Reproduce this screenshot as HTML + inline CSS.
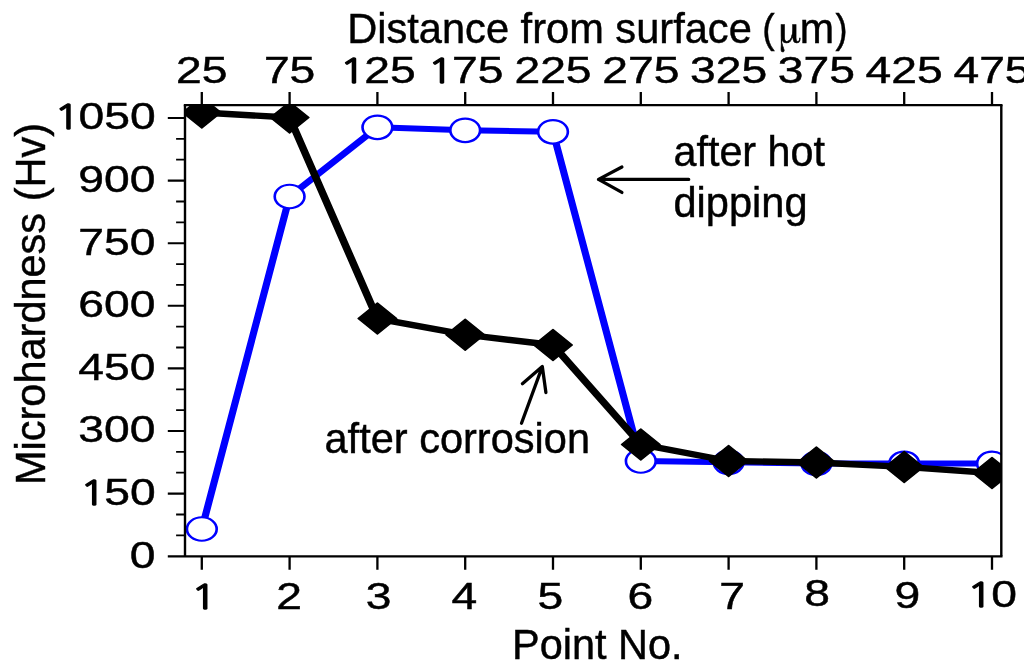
<!DOCTYPE html>
<html><head><meta charset="utf-8"><title>Microhardness</title>
<style>
html,body{margin:0;padding:0;background:#fff;}
body{width:1024px;height:669px;overflow:hidden;}
svg{display:block;filter:blur(0.5px);}
text{font-family:"Liberation Sans",Arial,sans-serif;fill:#000;stroke:#000;stroke-width:0.45px;}
.tk{font-size:37px;}
.lb{font-size:42px;}
.one{font-family:"NanumGothic","Liberation Sans",sans-serif;font-size:34.6px;stroke-width:1.25px;}
</style></head><body>
<svg width="1024" height="669" viewBox="0 0 1024 669">
<rect width="1024" height="669" fill="#fff"/>
<defs><clipPath id="cp"><rect x="185.0" y="105.0" width="816.3" height="451.3"/></clipPath></defs>

<g clip-path="url(#cp)"><g transform="scale(1.20,1)">
<polyline points="168.17,529.0 241.33,196.5 314.50,127.3 387.67,130.3 460.83,131.8 534.00,461.0 607.17,462.3 680.33,463.5 753.50,463.4 826.67,463.4" fill="none" stroke="#0000ff" stroke-width="6.0" stroke-linejoin="round"/>
<ellipse cx="168.17" cy="529.0" rx="12.4" ry="11.75" fill="#fff" stroke="#0000ff" stroke-width="2.2"/>
<ellipse cx="241.33" cy="196.5" rx="12.4" ry="11.75" fill="#fff" stroke="#0000ff" stroke-width="2.2"/>
<ellipse cx="314.50" cy="127.3" rx="12.4" ry="11.75" fill="#fff" stroke="#0000ff" stroke-width="2.2"/>
<ellipse cx="387.67" cy="130.3" rx="12.4" ry="11.75" fill="#fff" stroke="#0000ff" stroke-width="2.2"/>
<ellipse cx="460.83" cy="131.8" rx="12.4" ry="11.75" fill="#fff" stroke="#0000ff" stroke-width="2.2"/>
<ellipse cx="534.00" cy="461.0" rx="12.4" ry="11.75" fill="#fff" stroke="#0000ff" stroke-width="2.2"/>
<ellipse cx="607.17" cy="462.3" rx="12.4" ry="11.75" fill="#fff" stroke="#0000ff" stroke-width="2.2"/>
<ellipse cx="680.33" cy="463.5" rx="12.4" ry="11.75" fill="#fff" stroke="#0000ff" stroke-width="2.2"/>
<ellipse cx="753.50" cy="463.4" rx="12.4" ry="11.75" fill="#fff" stroke="#0000ff" stroke-width="2.2"/>
<ellipse cx="826.67" cy="463.4" rx="12.4" ry="11.75" fill="#fff" stroke="#0000ff" stroke-width="2.2"/>
<polyline points="168.17,112.5 241.33,117.5 314.50,318.6 387.67,334.7 460.83,345.0 534.00,444.4 607.17,461.0 680.33,462.5 753.50,466.9 826.67,473.0" fill="none" stroke="#000" stroke-width="6.4" stroke-linejoin="round"/>
<polygon points="152.17,112.5 168.17,97.0 184.17,112.5 168.17,128.0" fill="#000" stroke="#000" stroke-width="1.4" stroke-linejoin="round"/>
<polygon points="225.33,117.5 241.33,102.0 257.33,117.5 241.33,133.0" fill="#000" stroke="#000" stroke-width="1.4" stroke-linejoin="round"/>
<polygon points="298.50,318.6 314.50,303.1 330.50,318.6 314.50,334.1" fill="#000" stroke="#000" stroke-width="1.4" stroke-linejoin="round"/>
<polygon points="371.67,334.7 387.67,319.2 403.67,334.7 387.67,350.2" fill="#000" stroke="#000" stroke-width="1.4" stroke-linejoin="round"/>
<polygon points="444.83,345.0 460.83,329.5 476.83,345.0 460.83,360.5" fill="#000" stroke="#000" stroke-width="1.4" stroke-linejoin="round"/>
<polygon points="518.00,444.4 534.00,428.9 550.00,444.4 534.00,459.9" fill="#000" stroke="#000" stroke-width="1.4" stroke-linejoin="round"/>
<polygon points="591.17,461.0 607.17,445.5 623.17,461.0 607.17,476.5" fill="#000" stroke="#000" stroke-width="1.4" stroke-linejoin="round"/>
<polygon points="664.33,462.5 680.33,447.0 696.33,462.5 680.33,478.0" fill="#000" stroke="#000" stroke-width="1.4" stroke-linejoin="round"/>
<polygon points="737.50,466.9 753.50,451.4 769.50,466.9 753.50,482.4" fill="#000" stroke="#000" stroke-width="1.4" stroke-linejoin="round"/>
<polygon points="810.67,473.0 826.67,457.5 842.67,473.0 826.67,488.5" fill="#000" stroke="#000" stroke-width="1.4" stroke-linejoin="round"/>
</g></g>
<g stroke="#000" fill="none" stroke-linecap="butt">
<path stroke-width="2.2" d="M183.8 105.2 H1002.5 M167.8 556.3 H1002.5"/>
<path stroke-width="2.4" d="M185.0 105.0 V556.3 M1001.3 105.0 V556.3"/>
<path stroke-width="2.3" d="M201.8 105.0 V91.9 M201.8 556.3 V569.7M289.6 105.0 V91.9 M289.6 556.3 V569.7M377.4 105.0 V91.9 M377.4 556.3 V569.7M465.2 105.0 V91.9 M465.2 556.3 V569.7M553.0 105.0 V91.9 M553.0 556.3 V569.7M640.8 105.0 V91.9 M640.8 556.3 V569.7M728.6 105.0 V91.9 M728.6 556.3 V569.7M816.4 105.0 V91.9 M816.4 556.3 V569.7M904.2 105.0 V91.9 M904.2 556.3 V569.7M992.0 105.0 V91.9 M992.0 556.3 V569.7"/>
<path stroke-width="2.1" d="M185.0 493.6 H167.8M185.0 431.0 H167.8M185.0 368.4 H167.8M185.0 305.8 H167.8M185.0 243.2 H167.8M185.0 180.6 H167.8M185.0 118.0 H167.8"/>
<path stroke-width="1.8" d="M185.0 535.3 H176.1M185.0 514.5 H176.1M185.0 472.7 H176.1M185.0 451.9 H176.1M185.0 410.1 H176.1M185.0 389.3 H176.1M185.0 347.5 H176.1M185.0 326.7 H176.1M185.0 284.9 H176.1M185.0 264.1 H176.1M185.0 222.3 H176.1M185.0 201.5 H176.1M185.0 159.7 H176.1M185.0 138.9 H176.1"/>
</g>
<text class="tk" text-anchor="middle" transform="translate(201.8,82.7) scale(1.25,1)">25</text>
<text class="tk" text-anchor="middle" transform="translate(203.8,608.6) scale(1.25,1)"><tspan class="one">1</tspan></text>
<text class="tk" text-anchor="middle" transform="translate(289.6,82.7) scale(1.25,1)">75</text>
<text class="tk" text-anchor="middle" transform="translate(289.1,608.6) scale(1.25,1)">2</text>
<text class="tk" text-anchor="middle" transform="translate(376.0,82.7) scale(1.25,1)"><tspan class="one" dx="1.3">1</tspan><tspan dx="-1.3">2</tspan>5</text>
<text class="tk" text-anchor="middle" transform="translate(378.5,608.6) scale(1.25,1)">3</text>
<text class="tk" text-anchor="middle" transform="translate(463.8,82.7) scale(1.25,1)"><tspan class="one" dx="1.3">1</tspan><tspan dx="-1.3">7</tspan>5</text>
<text class="tk" text-anchor="middle" transform="translate(464.4,608.6) scale(1.25,1)">4</text>
<text class="tk" text-anchor="middle" transform="translate(553.0,82.7) scale(1.25,1)">225</text>
<text class="tk" text-anchor="middle" transform="translate(550.3,609.1) scale(1.25,1)">5</text>
<text class="tk" text-anchor="middle" transform="translate(640.8,82.7) scale(1.25,1)">275</text>
<text class="tk" text-anchor="middle" transform="translate(640.3,609.1) scale(1.25,1)">6</text>
<text class="tk" text-anchor="middle" transform="translate(728.6,82.7) scale(1.25,1)">325</text>
<text class="tk" text-anchor="middle" transform="translate(732.0,609.1) scale(1.25,1)">7</text>
<text class="tk" text-anchor="middle" transform="translate(816.4,82.7) scale(1.25,1)">375</text>
<text class="tk" text-anchor="middle" transform="translate(817.0,605.6) scale(1.25,1)">8</text>
<text class="tk" text-anchor="middle" transform="translate(904.2,82.7) scale(1.25,1)">425</text>
<text class="tk" text-anchor="middle" transform="translate(907.3,608.0) scale(1.25,1)">9</text>
<text class="tk" text-anchor="middle" transform="translate(992.0,82.7) scale(1.25,1)">475</text>
<text class="tk" text-anchor="middle" transform="translate(990.3,607.2) scale(1.25,1)"><tspan class="one" dx="1.3">1</tspan><tspan dx="-1.3">0</tspan></text>
<text class="tk" text-anchor="end" transform="translate(155.5,567.5) scale(1.25,1)">0</text>
<text class="tk" text-anchor="end" transform="translate(154.1,504.9) scale(1.25,1)"><tspan class="one" dx="1.3">1</tspan><tspan dx="-1.3">5</tspan>0</text>
<text class="tk" text-anchor="end" transform="translate(155.5,442.3) scale(1.25,1)">300</text>
<text class="tk" text-anchor="end" transform="translate(155.5,379.7) scale(1.25,1)">450</text>
<text class="tk" text-anchor="end" transform="translate(155.5,317.1) scale(1.25,1)">600</text>
<text class="tk" text-anchor="end" transform="translate(155.5,254.5) scale(1.25,1)">750</text>
<text class="tk" text-anchor="end" transform="translate(155.5,191.9) scale(1.25,1)">900</text>
<text class="tk" text-anchor="end" transform="translate(154.1,129.3) scale(1.25,1)"><tspan class="one" dx="1.3">1</tspan><tspan dx="-1.3">0</tspan>50</text>
<text class="lb" y="42.6"><tspan x="347.2" textLength="404.6" lengthAdjust="spacingAndGlyphs">Distance from surface</tspan><tspan> </tspan><tspan x="762.2" y="43.2" textLength="12.4" lengthAdjust="spacingAndGlyphs" style="font-size:40.5px">(</tspan><tspan x="778" y="42.6" textLength="23" lengthAdjust="spacingAndGlyphs" style="font-family:OpenSymbol,'Noto Serif CJK SC','Liberation Serif',serif;stroke-width:0.6px">μ</tspan><tspan x="799.8" textLength="34.4" lengthAdjust="spacingAndGlyphs">m</tspan><tspan x="835.4" y="43.2" textLength="12" lengthAdjust="spacingAndGlyphs" style="font-size:40.5px">)</tspan></text>
<text class="lb" x="512.00" y="658.60" textLength="170.50" lengthAdjust="spacingAndGlyphs">Point No.</text>
<text class="lb" x="673.50" y="166.30" textLength="151.50" lengthAdjust="spacingAndGlyphs">after hot</text>
<text class="lb" x="673.50" y="216.60" textLength="134.00" lengthAdjust="spacingAndGlyphs">dipping</text>
<text class="lb" x="324.50" y="452.60" textLength="265.50" lengthAdjust="spacingAndGlyphs">after corrosion</text>
<text class="lb" transform="translate(45.4,485) rotate(-90)" textLength="362" lengthAdjust="spacingAndGlyphs">Microhardness (Hv)</text>
<g stroke="#000" stroke-width="3.3" fill="none" stroke-linecap="round" stroke-linejoin="round">
<path d="M688.7 179.4 H598.5 M621.9 167 L598.5 179.4 L621.9 192.4"/>
<path d="M521.5 423.2 L542.3 366.6 M522.4 383.7 L542.3 366.6 L545.9 392.5"/>
</g>
</svg></body></html>
